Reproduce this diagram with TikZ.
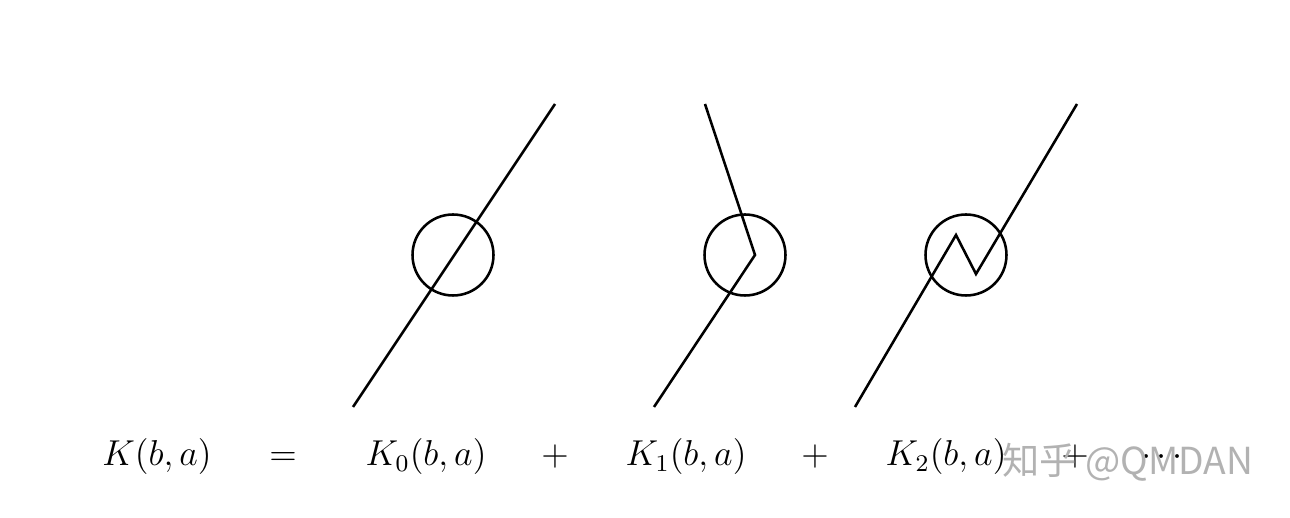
\documentclass[tikz,border=0pt]{standalone}
\usepackage{fontspec}
\newfontfamily\cjk{Noto Sans CJK SC}
\begin{document}
\begin{tikzpicture}[x=0.3333pt,y=-0.3333pt,
  wire/.style={line width=0.85pt,line join=miter},
  blob/.style={circle,draw,line width=0.85pt,minimum size=81*0.3333pt,inner sep=0pt},
  lbl/.style={anchor=base,inner sep=0pt,font=\fontsize{11.5}{14}\selectfont},
  wm/.style={anchor=base,inner sep=0pt,text=black!30,font=\cjk\fontsize{12.4}{14}\selectfont}]
\useasboundingbox (0,0) rectangle (1290,518);
% diagram 0
\node[blob] (c0) at (453,255) {};
\coordinate (a0) at (353,407);
\coordinate (b0) at (555,104);
\draw[wire] (a0) -- (b0);
% diagram 1
\node[blob] (c1) at (745,255) {};
\coordinate (a1) at (654,407);
\coordinate (k1) at (755,255);
\coordinate (b1) at (705,104);
\draw[wire] (a1) -- (k1) -- (b1);
% diagram 2
\node[blob] (c2) at (966,255) {};
\coordinate (a2) at (855,407);
\coordinate (p2) at (956,235);
\coordinate (q2) at (976,274);
\coordinate (b2) at (1077,104);
\draw[wire] (a2) -- (p2) -- (q2) -- (b2);
% equation
\node[lbl] (t0) at (157,466) {$K(b,a)$};
\node[lbl] (eq) at (283,466) {$=$};
\node[lbl] (t1) at (426,466) {$K_0(b,a)$};
\node[lbl] (p1) at (555,466) {$+$};
\node[lbl] (t2) at (686,466) {$K_1(b,a)$};
\node[lbl] (pp2) at (815,466) {$+$};
\node[lbl] (t3) at (946,466) {$K_2(b,a)$};
\node[lbl] (pp3) at (1075,466) {$+$};
\node[lbl] (dots) at (1162,466) {$\cdots$};
% watermark
\node[wm] (w) at (1128,475) {知乎 @QMDAN};
\end{tikzpicture}
\end{document}
